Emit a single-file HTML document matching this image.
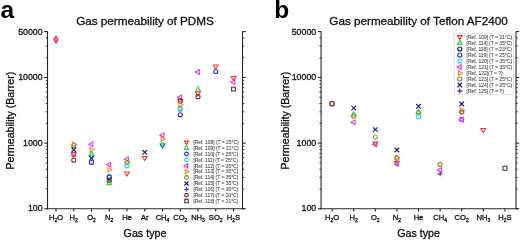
<!DOCTYPE html>
<html><head><meta charset="utf-8"><title>Gas permeability</title>
<style>
html,body{margin:0;padding:0;background:#fff;width:520px;height:240px;overflow:hidden;}
svg{display:block;filter:blur(0.35px);font-family:"Liberation Sans", Arial, sans-serif;}
</style></head><body>
<svg width="520" height="240" viewBox="0 0 520 240">
<rect width="520" height="240" fill="#fff"/>
<line x1="47.50" y1="31.56" x2="47.50" y2="209.30" stroke="#262626" stroke-width="1.1"/>
<line x1="46.95" y1="208.75" x2="244.80" y2="208.75" stroke="#262626" stroke-width="1.2"/>
<line x1="242.50" y1="31.56" x2="242.50" y2="209.30" stroke="#262626" stroke-width="1.1"/>
<line x1="44.30" y1="208.75" x2="47.50" y2="208.75" stroke="#262626" stroke-width="1.1"/>
<line x1="242.50" y1="208.75" x2="245.70" y2="208.75" stroke="#262626" stroke-width="1.1"/>
<line x1="44.30" y1="143.10" x2="47.50" y2="143.10" stroke="#262626" stroke-width="1.1"/>
<line x1="242.50" y1="143.10" x2="245.70" y2="143.10" stroke="#262626" stroke-width="1.1"/>
<line x1="44.30" y1="77.45" x2="47.50" y2="77.45" stroke="#262626" stroke-width="1.1"/>
<line x1="242.50" y1="77.45" x2="245.70" y2="77.45" stroke="#262626" stroke-width="1.1"/>
<line x1="44.30" y1="31.56" x2="47.50" y2="31.56" stroke="#262626" stroke-width="1.1"/>
<line x1="242.50" y1="31.56" x2="245.70" y2="31.56" stroke="#262626" stroke-width="1.1"/>
<line x1="45.80" y1="188.99" x2="47.50" y2="188.99" stroke="#262626" stroke-width="0.9"/>
<line x1="242.50" y1="188.99" x2="244.20" y2="188.99" stroke="#262626" stroke-width="0.9"/>
<line x1="45.80" y1="177.43" x2="47.50" y2="177.43" stroke="#262626" stroke-width="0.9"/>
<line x1="242.50" y1="177.43" x2="244.20" y2="177.43" stroke="#262626" stroke-width="0.9"/>
<line x1="45.80" y1="169.22" x2="47.50" y2="169.22" stroke="#262626" stroke-width="0.9"/>
<line x1="242.50" y1="169.22" x2="244.20" y2="169.22" stroke="#262626" stroke-width="0.9"/>
<line x1="45.80" y1="162.86" x2="47.50" y2="162.86" stroke="#262626" stroke-width="0.9"/>
<line x1="242.50" y1="162.86" x2="244.20" y2="162.86" stroke="#262626" stroke-width="0.9"/>
<line x1="45.80" y1="157.66" x2="47.50" y2="157.66" stroke="#262626" stroke-width="0.9"/>
<line x1="242.50" y1="157.66" x2="244.20" y2="157.66" stroke="#262626" stroke-width="0.9"/>
<line x1="45.80" y1="153.27" x2="47.50" y2="153.27" stroke="#262626" stroke-width="0.9"/>
<line x1="242.50" y1="153.27" x2="244.20" y2="153.27" stroke="#262626" stroke-width="0.9"/>
<line x1="45.80" y1="149.46" x2="47.50" y2="149.46" stroke="#262626" stroke-width="0.9"/>
<line x1="242.50" y1="149.46" x2="244.20" y2="149.46" stroke="#262626" stroke-width="0.9"/>
<line x1="45.80" y1="146.10" x2="47.50" y2="146.10" stroke="#262626" stroke-width="0.9"/>
<line x1="242.50" y1="146.10" x2="244.20" y2="146.10" stroke="#262626" stroke-width="0.9"/>
<line x1="45.80" y1="123.34" x2="47.50" y2="123.34" stroke="#262626" stroke-width="0.9"/>
<line x1="242.50" y1="123.34" x2="244.20" y2="123.34" stroke="#262626" stroke-width="0.9"/>
<line x1="45.80" y1="111.78" x2="47.50" y2="111.78" stroke="#262626" stroke-width="0.9"/>
<line x1="242.50" y1="111.78" x2="244.20" y2="111.78" stroke="#262626" stroke-width="0.9"/>
<line x1="45.80" y1="103.57" x2="47.50" y2="103.57" stroke="#262626" stroke-width="0.9"/>
<line x1="242.50" y1="103.57" x2="244.20" y2="103.57" stroke="#262626" stroke-width="0.9"/>
<line x1="45.80" y1="97.21" x2="47.50" y2="97.21" stroke="#262626" stroke-width="0.9"/>
<line x1="242.50" y1="97.21" x2="244.20" y2="97.21" stroke="#262626" stroke-width="0.9"/>
<line x1="45.80" y1="92.01" x2="47.50" y2="92.01" stroke="#262626" stroke-width="0.9"/>
<line x1="242.50" y1="92.01" x2="244.20" y2="92.01" stroke="#262626" stroke-width="0.9"/>
<line x1="45.80" y1="87.62" x2="47.50" y2="87.62" stroke="#262626" stroke-width="0.9"/>
<line x1="242.50" y1="87.62" x2="244.20" y2="87.62" stroke="#262626" stroke-width="0.9"/>
<line x1="45.80" y1="83.81" x2="47.50" y2="83.81" stroke="#262626" stroke-width="0.9"/>
<line x1="242.50" y1="83.81" x2="244.20" y2="83.81" stroke="#262626" stroke-width="0.9"/>
<line x1="45.80" y1="80.45" x2="47.50" y2="80.45" stroke="#262626" stroke-width="0.9"/>
<line x1="242.50" y1="80.45" x2="244.20" y2="80.45" stroke="#262626" stroke-width="0.9"/>
<line x1="45.80" y1="57.69" x2="47.50" y2="57.69" stroke="#262626" stroke-width="0.9"/>
<line x1="242.50" y1="57.69" x2="244.20" y2="57.69" stroke="#262626" stroke-width="0.9"/>
<line x1="45.80" y1="46.13" x2="47.50" y2="46.13" stroke="#262626" stroke-width="0.9"/>
<line x1="242.50" y1="46.13" x2="244.20" y2="46.13" stroke="#262626" stroke-width="0.9"/>
<line x1="45.80" y1="37.92" x2="47.50" y2="37.92" stroke="#262626" stroke-width="0.9"/>
<line x1="242.50" y1="37.92" x2="244.20" y2="37.92" stroke="#262626" stroke-width="0.9"/>
<line x1="45.80" y1="31.56" x2="47.50" y2="31.56" stroke="#262626" stroke-width="0.9"/>
<line x1="242.50" y1="31.56" x2="244.20" y2="31.56" stroke="#262626" stroke-width="0.9"/>
<text x="42.60" y="211.45" font-size="8.8" text-anchor="end" font-weight="normal" fill="#111" stroke="#111" stroke-width="0.3" >100</text>
<text x="42.60" y="145.80" font-size="8.8" text-anchor="end" font-weight="normal" fill="#111" stroke="#111" stroke-width="0.3" >1000</text>
<text x="42.60" y="80.15" font-size="8.8" text-anchor="end" font-weight="normal" fill="#111" stroke="#111" stroke-width="0.3" >10000</text>
<text x="42.60" y="34.76" font-size="8.8" text-anchor="end" font-weight="normal" fill="#111" stroke="#111" stroke-width="0.3" >50000</text>
<line x1="56.00" y1="208.75" x2="56.00" y2="211.55" stroke="#262626" stroke-width="1.1"/>
<text x="56.00" y="219.90" font-size="7.6" text-anchor="middle" font-weight="normal" fill="#111" stroke="#111" stroke-width="0.3" >H<tspan font-size="5.0" dy="2.5">2</tspan><tspan dy="-2.5">O</tspan></text>
<line x1="73.75" y1="208.75" x2="73.75" y2="211.55" stroke="#262626" stroke-width="1.1"/>
<text x="73.75" y="219.90" font-size="7.6" text-anchor="middle" font-weight="normal" fill="#111" stroke="#111" stroke-width="0.3" >H<tspan font-size="5.0" dy="2.5">2</tspan></text>
<line x1="91.50" y1="208.75" x2="91.50" y2="211.55" stroke="#262626" stroke-width="1.1"/>
<text x="91.50" y="219.90" font-size="7.6" text-anchor="middle" font-weight="normal" fill="#111" stroke="#111" stroke-width="0.3" >O<tspan font-size="5.0" dy="2.5">2</tspan></text>
<line x1="109.25" y1="208.75" x2="109.25" y2="211.55" stroke="#262626" stroke-width="1.1"/>
<text x="109.25" y="219.90" font-size="7.6" text-anchor="middle" font-weight="normal" fill="#111" stroke="#111" stroke-width="0.3" >N<tspan font-size="5.0" dy="2.5">2</tspan></text>
<line x1="127.00" y1="208.75" x2="127.00" y2="211.55" stroke="#262626" stroke-width="1.1"/>
<text x="127.00" y="219.90" font-size="7.6" text-anchor="middle" font-weight="normal" fill="#111" stroke="#111" stroke-width="0.3" >He</text>
<line x1="144.75" y1="208.75" x2="144.75" y2="211.55" stroke="#262626" stroke-width="1.1"/>
<text x="144.75" y="219.90" font-size="7.6" text-anchor="middle" font-weight="normal" fill="#111" stroke="#111" stroke-width="0.3" >Ar</text>
<line x1="162.50" y1="208.75" x2="162.50" y2="211.55" stroke="#262626" stroke-width="1.1"/>
<text x="162.50" y="219.90" font-size="7.6" text-anchor="middle" font-weight="normal" fill="#111" stroke="#111" stroke-width="0.3" >CH<tspan font-size="5.0" dy="2.5">4</tspan></text>
<line x1="180.25" y1="208.75" x2="180.25" y2="211.55" stroke="#262626" stroke-width="1.1"/>
<text x="180.25" y="219.90" font-size="7.6" text-anchor="middle" font-weight="normal" fill="#111" stroke="#111" stroke-width="0.3" >CO<tspan font-size="5.0" dy="2.5">2</tspan></text>
<line x1="198.00" y1="208.75" x2="198.00" y2="211.55" stroke="#262626" stroke-width="1.1"/>
<text x="198.00" y="219.90" font-size="7.6" text-anchor="middle" font-weight="normal" fill="#111" stroke="#111" stroke-width="0.3" >NH<tspan font-size="5.0" dy="2.5">3</tspan></text>
<line x1="215.75" y1="208.75" x2="215.75" y2="211.55" stroke="#262626" stroke-width="1.1"/>
<text x="215.75" y="219.90" font-size="7.6" text-anchor="middle" font-weight="normal" fill="#111" stroke="#111" stroke-width="0.3" >SO<tspan font-size="5.0" dy="2.5">2</tspan></text>
<line x1="233.50" y1="208.75" x2="233.50" y2="211.55" stroke="#262626" stroke-width="1.1"/>
<text x="233.50" y="219.90" font-size="7.6" text-anchor="middle" font-weight="normal" fill="#111" stroke="#111" stroke-width="0.3" >H<tspan font-size="5.0" dy="2.5">2</tspan><tspan dy="-2.5">S</tspan></text>
<text x="145.00" y="236.70" font-size="10.7" text-anchor="middle" font-weight="normal" fill="#111" stroke="#111" stroke-width="0.3" >Gas type</text>
<text x="145.00" y="25.00" font-size="11.7" text-anchor="middle" font-weight="normal" fill="#111" stroke="#111" stroke-width="0.3" >Gas permeability of PDMS</text>
<text x="0" y="0" font-size="10.6" text-anchor="middle" fill="#111" stroke="#111" stroke-width="0.3" transform="translate(14.40,120.66) rotate(-90)">Permeability (Barrer)</text>
<text x="0.50" y="18.40" font-size="24.5" text-anchor="start" font-weight="bold" fill="#000" >a</text>
<polygon points="56.00,36.50 58.00,39.60 56.00,42.70 54.00,39.60" fill="#f4b0c8" stroke="#d6245a" stroke-width="1.3"/>
<polygon points="76.44,144.30 72.41,146.63 72.41,141.97" fill="none" stroke="#f58c30" stroke-width="1.12" stroke-linejoin="miter"/>
<circle cx="73.75" cy="145.60" r="2.04" fill="none" stroke="#8e8e28" stroke-width="1.12"/>
<path d="M71.47,147.52L76.03,152.08M76.03,147.52L71.47,152.08" stroke="#1e1e80" stroke-width="1.1760000000000002"/>
<polygon points="73.75,156.59 71.42,152.56 76.08,152.56" fill="none" stroke="#f03838" stroke-width="1.12" stroke-linejoin="miter"/>
<circle cx="73.75" cy="154.80" r="2.04" fill="none" stroke="#d84070" stroke-width="1.12"/>
<circle cx="73.75" cy="160.20" r="2.04" fill="none" stroke="#8a3a2a" stroke-width="1.12"/>
<polygon points="88.81,144.20 92.84,141.87 92.84,146.53" fill="none" stroke="#e63ae6" stroke-width="1.12" stroke-linejoin="miter"/>
<polygon points="94.19,149.70 90.16,152.03 90.16,147.37" fill="none" stroke="#f58c30" stroke-width="1.12" stroke-linejoin="miter"/>
<polygon points="91.50,151.31 93.83,155.34 89.17,155.34" fill="none" stroke="#3ad03a" stroke-width="1.12" stroke-linejoin="miter"/>
<circle cx="91.50" cy="155.20" r="2.04" fill="none" stroke="#2ad8e0" stroke-width="1.12"/>
<path d="M89.22,156.02L93.78,160.58M93.78,156.02L89.22,160.58" stroke="#1e1e80" stroke-width="1.1760000000000002"/>
<circle cx="91.50" cy="162.50" r="2.04" fill="none" stroke="#3030d8" stroke-width="1.12"/>
<polygon points="106.56,164.70 110.59,162.37 110.59,167.03" fill="none" stroke="#e63ae6" stroke-width="1.12" stroke-linejoin="miter"/>
<polygon points="111.94,169.70 107.91,172.03 107.91,167.37" fill="none" stroke="#f58c30" stroke-width="1.12" stroke-linejoin="miter"/>
<circle cx="109.25" cy="176.00" r="2.04" fill="none" stroke="#2ad8e0" stroke-width="1.12"/>
<circle cx="109.25" cy="177.20" r="2.04" fill="none" stroke="#3030d8" stroke-width="1.12"/>
<path d="M106.97,177.72L111.53,182.28M111.53,177.72L106.97,182.28" stroke="#1e1e80" stroke-width="1.1760000000000002"/>
<circle cx="109.25" cy="180.60" r="2.04" fill="none" stroke="#8e2a3a" stroke-width="1.12"/>
<polygon points="109.25,180.61 111.58,184.64 106.92,184.64" fill="none" stroke="#3ad03a" stroke-width="1.12" stroke-linejoin="miter"/>
<polygon points="124.31,159.20 128.34,156.87 128.34,161.53" fill="none" stroke="#e63ae6" stroke-width="1.12" stroke-linejoin="miter"/>
<polygon points="129.69,162.00 125.66,164.33 125.66,159.67" fill="none" stroke="#f58c30" stroke-width="1.12" stroke-linejoin="miter"/>
<circle cx="127.00" cy="162.60" r="2.04" fill="none" stroke="#8e8e28" stroke-width="1.12"/>
<circle cx="127.00" cy="165.80" r="2.04" fill="none" stroke="#2ad8e0" stroke-width="1.12"/>
<polygon points="127.00,175.99 124.67,171.96 129.33,171.96" fill="none" stroke="#f03838" stroke-width="1.12" stroke-linejoin="miter"/>
<path d="M142.47,150.02L147.03,154.58M147.03,150.02L142.47,154.58" stroke="#1e1e80" stroke-width="1.1760000000000002"/>
<polygon points="144.75,160.49 142.42,156.46 147.08,156.46" fill="none" stroke="#f03838" stroke-width="1.12" stroke-linejoin="miter"/>
<polygon points="159.81,135.20 163.84,132.87 163.84,137.53" fill="none" stroke="#e63ae6" stroke-width="1.12" stroke-linejoin="miter"/>
<polygon points="165.19,139.20 161.16,141.53 161.16,136.87" fill="none" stroke="#f58c30" stroke-width="1.12" stroke-linejoin="miter"/>
<circle cx="162.50" cy="144.60" r="2.04" fill="none" stroke="#2ad8e0" stroke-width="1.12"/>
<polygon points="162.50,148.09 160.17,144.06 164.83,144.06" fill="none" stroke="#2f7078" stroke-width="1.12" stroke-linejoin="miter"/>
<polygon points="177.56,97.30 181.59,94.97 181.59,99.63" fill="none" stroke="#e63ae6" stroke-width="1.12" stroke-linejoin="miter"/>
<polygon points="180.25,103.19 177.92,99.16 182.58,99.16" fill="none" stroke="#f03838" stroke-width="1.12" stroke-linejoin="miter"/>
<circle cx="180.25" cy="101.20" r="2.04" fill="none" stroke="#8e2a3a" stroke-width="1.12"/>
<polygon points="182.94,104.60 178.91,106.93 178.91,102.27" fill="none" stroke="#f58c30" stroke-width="1.12" stroke-linejoin="miter"/>
<circle cx="180.25" cy="108.50" r="2.04" fill="none" stroke="#8e8e28" stroke-width="1.12"/>
<circle cx="180.25" cy="109.60" r="2.04" fill="none" stroke="#2ad8e0" stroke-width="1.12"/>
<circle cx="180.25" cy="114.80" r="2.04" fill="none" stroke="#3030d8" stroke-width="1.12"/>
<polygon points="195.31,72.00 199.34,69.67 199.34,74.33" fill="none" stroke="#e63ae6" stroke-width="1.12" stroke-linejoin="miter"/>
<polygon points="198.00,87.01 200.33,91.04 195.67,91.04" fill="none" stroke="#3ad03a" stroke-width="1.12" stroke-linejoin="miter"/>
<polygon points="198.00,95.99 195.67,91.96 200.33,91.96" fill="none" stroke="#f03838" stroke-width="1.12" stroke-linejoin="miter"/>
<circle cx="198.00" cy="96.70" r="2.04" fill="none" stroke="#8e2a3a" stroke-width="1.12"/>
<polygon points="215.75,68.99 213.42,64.96 218.08,64.96" fill="none" stroke="#f03838" stroke-width="1.12" stroke-linejoin="miter"/>
<circle cx="215.75" cy="71.50" r="2.04" fill="none" stroke="#3030d8" stroke-width="1.12"/>
<polygon points="233.50,80.59 231.17,76.56 235.83,76.56" fill="none" stroke="#f03838" stroke-width="1.12" stroke-linejoin="miter"/>
<polygon points="230.81,82.20 234.84,79.87 234.84,84.53" fill="none" stroke="#e63ae6" stroke-width="1.12" stroke-linejoin="miter"/>
<rect x="231.58" y="87.18" width="3.84" height="3.84" fill="none" stroke="#484848" stroke-width="1.12"/>
<polygon points="186.50,144.71 184.41,141.10 188.59,141.10" fill="none" stroke="#f03838" stroke-width="1.2" stroke-linejoin="miter"/>
<text x="193.40" y="144.05" font-size="4.9" text-anchor="start" font-weight="normal" fill="#555555" stroke="#555555" stroke-width="0.12" >[Ref. 108] (T = 25°C)</text>
<polygon points="186.50,145.76 188.59,149.37 184.41,149.37" fill="none" stroke="#3ad03a" stroke-width="1.2" stroke-linejoin="miter"/>
<text x="193.40" y="149.92" font-size="4.9" text-anchor="start" font-weight="normal" fill="#555555" stroke="#555555" stroke-width="0.12" >[Ref. 109] (T = 21°C)</text>
<circle cx="186.50" cy="154.04" r="1.83" fill="none" stroke="#3030d8" stroke-width="1.2"/>
<text x="193.40" y="155.79" font-size="4.9" text-anchor="start" font-weight="normal" fill="#555555" stroke="#555555" stroke-width="0.12" >[Ref. 110] (T = 25°C)</text>
<circle cx="186.50" cy="159.91" r="1.83" fill="none" stroke="#2ad8e0" stroke-width="1.2"/>
<text x="193.40" y="161.66" font-size="4.9" text-anchor="start" font-weight="normal" fill="#555555" stroke="#555555" stroke-width="0.12" >[Ref. 111] (T = 25°C)</text>
<polygon points="184.09,165.78 187.70,163.69 187.70,167.87" fill="none" stroke="#e63ae6" stroke-width="1.2" stroke-linejoin="miter"/>
<text x="193.40" y="167.53" font-size="4.9" text-anchor="start" font-weight="normal" fill="#555555" stroke="#555555" stroke-width="0.12" >[Ref. 112] (T = 35°C)</text>
<polygon points="188.91,171.65 185.30,173.74 185.30,169.56" fill="none" stroke="#f58c30" stroke-width="1.2" stroke-linejoin="miter"/>
<text x="193.40" y="173.40" font-size="4.9" text-anchor="start" font-weight="normal" fill="#555555" stroke="#555555" stroke-width="0.12" >[Ref. 113] (T = 35°C)</text>
<circle cx="186.50" cy="177.52" r="1.83" fill="none" stroke="#8e8e28" stroke-width="1.2"/>
<text x="193.40" y="179.27" font-size="4.9" text-anchor="start" font-weight="normal" fill="#555555" stroke="#555555" stroke-width="0.12" >[Ref. 114] (T = 35°C)</text>
<path d="M184.46,181.35L188.54,185.43M188.54,181.35L184.46,185.43" stroke="#1e1e80" stroke-width="1.26"/>
<text x="193.40" y="185.14" font-size="4.9" text-anchor="start" font-weight="normal" fill="#555555" stroke="#555555" stroke-width="0.12" >[Ref. 115] (T = 35°C)</text>
<path d="M184.24,189.26L188.76,189.26M186.50,187.00L186.50,191.52" stroke="#6e3088" stroke-width="1.26"/>
<text x="193.40" y="191.01" font-size="4.9" text-anchor="start" font-weight="normal" fill="#555555" stroke="#555555" stroke-width="0.12" >[Ref. 116] (T = 30°C)</text>
<circle cx="186.50" cy="195.13" r="1.83" fill="none" stroke="#8e2a3a" stroke-width="1.2"/>
<text x="193.40" y="196.88" font-size="4.9" text-anchor="start" font-weight="normal" fill="#555555" stroke="#555555" stroke-width="0.12" >[Ref. 117] (T = 20°C)</text>
<rect x="184.78" y="199.28" width="3.44" height="3.44" fill="none" stroke="#484848" stroke-width="1.2"/>
<text x="193.40" y="202.75" font-size="4.9" text-anchor="start" font-weight="normal" fill="#555555" stroke="#555555" stroke-width="0.12" >[Ref. 118] (T = 21°C)</text>
<rect x="454.2" y="33.8" width="59.2" height="61" fill="none" stroke="#d0d0d0" stroke-width="0.6"/>
<line x1="321.10" y1="31.56" x2="321.10" y2="209.30" stroke="#262626" stroke-width="1.1"/>
<line x1="320.55" y1="208.75" x2="518.30" y2="208.75" stroke="#262626" stroke-width="1.2"/>
<line x1="516.00" y1="31.56" x2="516.00" y2="209.30" stroke="#262626" stroke-width="1.1"/>
<line x1="317.90" y1="208.75" x2="321.10" y2="208.75" stroke="#262626" stroke-width="1.1"/>
<line x1="516.00" y1="208.75" x2="519.20" y2="208.75" stroke="#262626" stroke-width="1.1"/>
<line x1="317.90" y1="143.10" x2="321.10" y2="143.10" stroke="#262626" stroke-width="1.1"/>
<line x1="516.00" y1="143.10" x2="519.20" y2="143.10" stroke="#262626" stroke-width="1.1"/>
<line x1="317.90" y1="77.45" x2="321.10" y2="77.45" stroke="#262626" stroke-width="1.1"/>
<line x1="516.00" y1="77.45" x2="519.20" y2="77.45" stroke="#262626" stroke-width="1.1"/>
<line x1="317.90" y1="31.56" x2="321.10" y2="31.56" stroke="#262626" stroke-width="1.1"/>
<line x1="516.00" y1="31.56" x2="519.20" y2="31.56" stroke="#262626" stroke-width="1.1"/>
<line x1="319.40" y1="188.99" x2="321.10" y2="188.99" stroke="#262626" stroke-width="0.9"/>
<line x1="516.00" y1="188.99" x2="517.70" y2="188.99" stroke="#262626" stroke-width="0.9"/>
<line x1="319.40" y1="177.43" x2="321.10" y2="177.43" stroke="#262626" stroke-width="0.9"/>
<line x1="516.00" y1="177.43" x2="517.70" y2="177.43" stroke="#262626" stroke-width="0.9"/>
<line x1="319.40" y1="169.22" x2="321.10" y2="169.22" stroke="#262626" stroke-width="0.9"/>
<line x1="516.00" y1="169.22" x2="517.70" y2="169.22" stroke="#262626" stroke-width="0.9"/>
<line x1="319.40" y1="162.86" x2="321.10" y2="162.86" stroke="#262626" stroke-width="0.9"/>
<line x1="516.00" y1="162.86" x2="517.70" y2="162.86" stroke="#262626" stroke-width="0.9"/>
<line x1="319.40" y1="157.66" x2="321.10" y2="157.66" stroke="#262626" stroke-width="0.9"/>
<line x1="516.00" y1="157.66" x2="517.70" y2="157.66" stroke="#262626" stroke-width="0.9"/>
<line x1="319.40" y1="153.27" x2="321.10" y2="153.27" stroke="#262626" stroke-width="0.9"/>
<line x1="516.00" y1="153.27" x2="517.70" y2="153.27" stroke="#262626" stroke-width="0.9"/>
<line x1="319.40" y1="149.46" x2="321.10" y2="149.46" stroke="#262626" stroke-width="0.9"/>
<line x1="516.00" y1="149.46" x2="517.70" y2="149.46" stroke="#262626" stroke-width="0.9"/>
<line x1="319.40" y1="146.10" x2="321.10" y2="146.10" stroke="#262626" stroke-width="0.9"/>
<line x1="516.00" y1="146.10" x2="517.70" y2="146.10" stroke="#262626" stroke-width="0.9"/>
<line x1="319.40" y1="123.34" x2="321.10" y2="123.34" stroke="#262626" stroke-width="0.9"/>
<line x1="516.00" y1="123.34" x2="517.70" y2="123.34" stroke="#262626" stroke-width="0.9"/>
<line x1="319.40" y1="111.78" x2="321.10" y2="111.78" stroke="#262626" stroke-width="0.9"/>
<line x1="516.00" y1="111.78" x2="517.70" y2="111.78" stroke="#262626" stroke-width="0.9"/>
<line x1="319.40" y1="103.57" x2="321.10" y2="103.57" stroke="#262626" stroke-width="0.9"/>
<line x1="516.00" y1="103.57" x2="517.70" y2="103.57" stroke="#262626" stroke-width="0.9"/>
<line x1="319.40" y1="97.21" x2="321.10" y2="97.21" stroke="#262626" stroke-width="0.9"/>
<line x1="516.00" y1="97.21" x2="517.70" y2="97.21" stroke="#262626" stroke-width="0.9"/>
<line x1="319.40" y1="92.01" x2="321.10" y2="92.01" stroke="#262626" stroke-width="0.9"/>
<line x1="516.00" y1="92.01" x2="517.70" y2="92.01" stroke="#262626" stroke-width="0.9"/>
<line x1="319.40" y1="87.62" x2="321.10" y2="87.62" stroke="#262626" stroke-width="0.9"/>
<line x1="516.00" y1="87.62" x2="517.70" y2="87.62" stroke="#262626" stroke-width="0.9"/>
<line x1="319.40" y1="83.81" x2="321.10" y2="83.81" stroke="#262626" stroke-width="0.9"/>
<line x1="516.00" y1="83.81" x2="517.70" y2="83.81" stroke="#262626" stroke-width="0.9"/>
<line x1="319.40" y1="80.45" x2="321.10" y2="80.45" stroke="#262626" stroke-width="0.9"/>
<line x1="516.00" y1="80.45" x2="517.70" y2="80.45" stroke="#262626" stroke-width="0.9"/>
<line x1="319.40" y1="57.69" x2="321.10" y2="57.69" stroke="#262626" stroke-width="0.9"/>
<line x1="516.00" y1="57.69" x2="517.70" y2="57.69" stroke="#262626" stroke-width="0.9"/>
<line x1="319.40" y1="46.13" x2="321.10" y2="46.13" stroke="#262626" stroke-width="0.9"/>
<line x1="516.00" y1="46.13" x2="517.70" y2="46.13" stroke="#262626" stroke-width="0.9"/>
<line x1="319.40" y1="37.92" x2="321.10" y2="37.92" stroke="#262626" stroke-width="0.9"/>
<line x1="516.00" y1="37.92" x2="517.70" y2="37.92" stroke="#262626" stroke-width="0.9"/>
<line x1="319.40" y1="31.56" x2="321.10" y2="31.56" stroke="#262626" stroke-width="0.9"/>
<line x1="516.00" y1="31.56" x2="517.70" y2="31.56" stroke="#262626" stroke-width="0.9"/>
<text x="316.20" y="211.45" font-size="8.8" text-anchor="end" font-weight="normal" fill="#111" stroke="#111" stroke-width="0.3" >100</text>
<text x="316.20" y="145.80" font-size="8.8" text-anchor="end" font-weight="normal" fill="#111" stroke="#111" stroke-width="0.3" >1000</text>
<text x="316.20" y="80.15" font-size="8.8" text-anchor="end" font-weight="normal" fill="#111" stroke="#111" stroke-width="0.3" >10000</text>
<text x="316.20" y="34.76" font-size="8.8" text-anchor="end" font-weight="normal" fill="#111" stroke="#111" stroke-width="0.3" >50000</text>
<line x1="332.10" y1="208.75" x2="332.10" y2="211.55" stroke="#262626" stroke-width="1.1"/>
<text x="332.10" y="219.90" font-size="7.6" text-anchor="middle" font-weight="normal" fill="#111" stroke="#111" stroke-width="0.3" >H<tspan font-size="5.0" dy="2.5">2</tspan><tspan dy="-2.5">O</tspan></text>
<line x1="353.70" y1="208.75" x2="353.70" y2="211.55" stroke="#262626" stroke-width="1.1"/>
<text x="353.70" y="219.90" font-size="7.6" text-anchor="middle" font-weight="normal" fill="#111" stroke="#111" stroke-width="0.3" >H<tspan font-size="5.0" dy="2.5">2</tspan></text>
<line x1="375.30" y1="208.75" x2="375.30" y2="211.55" stroke="#262626" stroke-width="1.1"/>
<text x="375.30" y="219.90" font-size="7.6" text-anchor="middle" font-weight="normal" fill="#111" stroke="#111" stroke-width="0.3" >O<tspan font-size="5.0" dy="2.5">2</tspan></text>
<line x1="396.90" y1="208.75" x2="396.90" y2="211.55" stroke="#262626" stroke-width="1.1"/>
<text x="396.90" y="219.90" font-size="7.6" text-anchor="middle" font-weight="normal" fill="#111" stroke="#111" stroke-width="0.3" >N<tspan font-size="5.0" dy="2.5">2</tspan></text>
<line x1="418.50" y1="208.75" x2="418.50" y2="211.55" stroke="#262626" stroke-width="1.1"/>
<text x="418.50" y="219.90" font-size="7.6" text-anchor="middle" font-weight="normal" fill="#111" stroke="#111" stroke-width="0.3" >He</text>
<line x1="440.10" y1="208.75" x2="440.10" y2="211.55" stroke="#262626" stroke-width="1.1"/>
<text x="440.10" y="219.90" font-size="7.6" text-anchor="middle" font-weight="normal" fill="#111" stroke="#111" stroke-width="0.3" >CH<tspan font-size="5.0" dy="2.5">4</tspan></text>
<line x1="461.70" y1="208.75" x2="461.70" y2="211.55" stroke="#262626" stroke-width="1.1"/>
<text x="461.70" y="219.90" font-size="7.6" text-anchor="middle" font-weight="normal" fill="#111" stroke="#111" stroke-width="0.3" >CO<tspan font-size="5.0" dy="2.5">2</tspan></text>
<line x1="483.30" y1="208.75" x2="483.30" y2="211.55" stroke="#262626" stroke-width="1.1"/>
<text x="483.30" y="219.90" font-size="7.6" text-anchor="middle" font-weight="normal" fill="#111" stroke="#111" stroke-width="0.3" >NH<tspan font-size="5.0" dy="2.5">3</tspan></text>
<line x1="504.90" y1="208.75" x2="504.90" y2="211.55" stroke="#262626" stroke-width="1.1"/>
<text x="504.90" y="219.90" font-size="7.6" text-anchor="middle" font-weight="normal" fill="#111" stroke="#111" stroke-width="0.3" >H<tspan font-size="5.0" dy="2.5">2</tspan><tspan dy="-2.5">S</tspan></text>
<text x="418.55" y="236.70" font-size="10.7" text-anchor="middle" font-weight="normal" fill="#111" stroke="#111" stroke-width="0.3" >Gas type</text>
<text x="418.55" y="25.00" font-size="11.7" text-anchor="middle" font-weight="normal" fill="#111" stroke="#111" stroke-width="0.3" >Gas permeability of Teflon AF2400</text>
<text x="0" y="0" font-size="10.6" text-anchor="middle" fill="#111" stroke="#111" stroke-width="0.3" transform="translate(289.40,120.66) rotate(-90)">Permeability (Barrer)</text>
<text x="274.30" y="18.40" font-size="24.5" text-anchor="start" font-weight="bold" fill="#000" >b</text>
<circle cx="332.10" cy="103.70" r="2.17" fill="none" stroke="#7a3a2e" stroke-width="1.45"/>
<path d="M351.42,105.82L355.98,110.38M355.98,105.82L351.42,110.38" stroke="#1e1e80" stroke-width="1.1760000000000002"/>
<polygon points="353.70,111.71 356.03,115.74 351.37,115.74" fill="none" stroke="#3ad03a" stroke-width="1.12" stroke-linejoin="miter"/>
<circle cx="353.70" cy="116.00" r="2.04" fill="none" stroke="#8e8e28" stroke-width="1.12"/>
<polygon points="351.01,122.20 355.04,119.87 355.04,124.53" fill="none" stroke="#e63ae6" stroke-width="1.12" stroke-linejoin="miter"/>
<path d="M373.02,127.32L377.58,131.88M377.58,127.32L373.02,131.88" stroke="#1e1e80" stroke-width="1.1760000000000002"/>
<circle cx="375.30" cy="137.00" r="2.04" fill="none" stroke="#90a040" stroke-width="1.12"/>
<polygon points="375.30,146.09 372.97,142.06 377.63,142.06" fill="none" stroke="#e04050" stroke-width="1.12" stroke-linejoin="miter"/>
<polygon points="372.61,144.20 376.64,141.87 376.64,146.53" fill="none" stroke="#d8408a" stroke-width="1.12" stroke-linejoin="miter"/>
<path d="M394.62,147.72L399.18,152.28M399.18,147.72L394.62,152.28" stroke="#1e1e80" stroke-width="1.1760000000000002"/>
<polygon points="399.59,157.50 395.56,159.83 395.56,155.17" fill="none" stroke="#f58c30" stroke-width="1.12" stroke-linejoin="miter"/>
<circle cx="396.90" cy="158.20" r="2.04" fill="none" stroke="#8e8e28" stroke-width="1.12"/>
<polygon points="396.90,165.69 394.57,161.66 399.23,161.66" fill="none" stroke="#f03838" stroke-width="1.12" stroke-linejoin="miter"/>
<polygon points="394.21,164.00 398.24,161.67 398.24,166.33" fill="none" stroke="#e63ae6" stroke-width="1.12" stroke-linejoin="miter"/>
<path d="M416.22,104.02L420.78,108.58M420.78,104.02L416.22,108.58" stroke="#1e1e80" stroke-width="1.1760000000000002"/>
<polygon points="418.50,109.31 420.83,113.34 416.17,113.34" fill="none" stroke="#3ad03a" stroke-width="1.12" stroke-linejoin="miter"/>
<circle cx="418.50" cy="112.80" r="2.04" fill="none" stroke="#8e8e28" stroke-width="1.12"/>
<circle cx="418.50" cy="116.70" r="2.04" fill="none" stroke="#2ad8e0" stroke-width="1.12"/>
<circle cx="440.10" cy="164.40" r="2.04" fill="none" stroke="#8e8e28" stroke-width="1.12"/>
<polygon points="437.41,170.00 441.44,167.67 441.44,172.33" fill="none" stroke="#e63ae6" stroke-width="1.12" stroke-linejoin="miter"/>
<path d="M437.58,173.80L442.62,173.80M440.10,171.28L440.10,176.32" stroke="#6e3088" stroke-width="1.1760000000000002"/>
<path d="M459.42,101.72L463.98,106.28M463.98,101.72L459.42,106.28" stroke="#1e1e80" stroke-width="1.1760000000000002"/>
<polygon points="464.39,110.20 460.36,112.53 460.36,107.87" fill="none" stroke="#f58c30" stroke-width="1.12" stroke-linejoin="miter"/>
<circle cx="461.70" cy="112.00" r="2.04" fill="none" stroke="#a0522d" stroke-width="1.12"/>
<circle cx="461.70" cy="119.40" r="2.04" fill="none" stroke="#9a3ab0" stroke-width="1.12"/>
<polygon points="459.01,119.80 463.04,117.47 463.04,122.13" fill="none" stroke="#e63ae6" stroke-width="1.12" stroke-linejoin="miter"/>
<polygon points="483.30,132.49 480.97,128.46 485.63,128.46" fill="none" stroke="#f03838" stroke-width="1.12" stroke-linejoin="miter"/>
<rect x="502.98" y="166.38" width="3.84" height="3.84" fill="none" stroke="#484848" stroke-width="1.12"/>
<polygon points="459.80,39.63 457.52,35.68 462.08,35.68" fill="none" stroke="#f03838" stroke-width="1.2" stroke-linejoin="miter"/>
<text x="466.60" y="38.75" font-size="4.95" text-anchor="start" font-weight="normal" fill="#555555" stroke="#555555" stroke-width="0.12" >[Ref. 109] (T = 21°C)</text>
<polygon points="459.80,40.37 462.08,44.32 457.52,44.32" fill="none" stroke="#3ad03a" stroke-width="1.2" stroke-linejoin="miter"/>
<text x="466.60" y="44.75" font-size="4.95" text-anchor="start" font-weight="normal" fill="#555555" stroke="#555555" stroke-width="0.12" >[Ref. 114] (T = 35°C)</text>
<circle cx="459.80" cy="49.00" r="2.00" fill="none" stroke="#1e1e5a" stroke-width="1.2"/>
<text x="466.60" y="50.75" font-size="4.95" text-anchor="start" font-weight="normal" fill="#555555" stroke="#555555" stroke-width="0.12" >[Ref. 118] (T = 23°C)</text>
<circle cx="459.80" cy="55.00" r="2.00" fill="none" stroke="#3030d8" stroke-width="1.2"/>
<text x="466.60" y="56.75" font-size="4.95" text-anchor="start" font-weight="normal" fill="#555555" stroke="#555555" stroke-width="0.12" >[Ref. 119] (T = 25°C)</text>
<circle cx="459.80" cy="61.00" r="2.00" fill="none" stroke="#2ad8e0" stroke-width="1.2"/>
<text x="466.60" y="62.75" font-size="4.95" text-anchor="start" font-weight="normal" fill="#555555" stroke="#555555" stroke-width="0.12" >[Ref. 120] (T = 35°C)</text>
<polygon points="457.17,67.00 461.12,64.72 461.12,69.28" fill="none" stroke="#e63ae6" stroke-width="1.2" stroke-linejoin="miter"/>
<text x="466.60" y="68.75" font-size="4.95" text-anchor="start" font-weight="normal" fill="#555555" stroke="#555555" stroke-width="0.12" >[Ref. 121] (T = 35°C)</text>
<polygon points="462.43,73.00 458.48,75.28 458.48,70.72" fill="none" stroke="#f58c30" stroke-width="1.2" stroke-linejoin="miter"/>
<text x="466.60" y="74.75" font-size="4.95" text-anchor="start" font-weight="normal" fill="#555555" stroke="#555555" stroke-width="0.12" >[Ref. 122](T = ?)</text>
<circle cx="459.80" cy="79.00" r="2.00" fill="none" stroke="#8e8e28" stroke-width="1.2"/>
<text x="466.60" y="80.75" font-size="4.95" text-anchor="start" font-weight="normal" fill="#555555" stroke="#555555" stroke-width="0.12" >[Ref. 123] (T = 25°C)</text>
<path d="M457.57,82.77L462.03,87.23M462.03,82.77L457.57,87.23" stroke="#1e1e80" stroke-width="1.26"/>
<text x="466.60" y="86.75" font-size="4.95" text-anchor="start" font-weight="normal" fill="#555555" stroke="#555555" stroke-width="0.12" >[Ref. 124] (T = 25°C)</text>
<path d="M457.33,91.00L462.27,91.00M459.80,88.53L459.80,93.47" stroke="#6e3088" stroke-width="1.26"/>
<text x="466.60" y="92.75" font-size="4.95" text-anchor="start" font-weight="normal" fill="#555555" stroke="#555555" stroke-width="0.12" >[Ref. 125] (T = ?)</text>
</svg>
</body></html>
